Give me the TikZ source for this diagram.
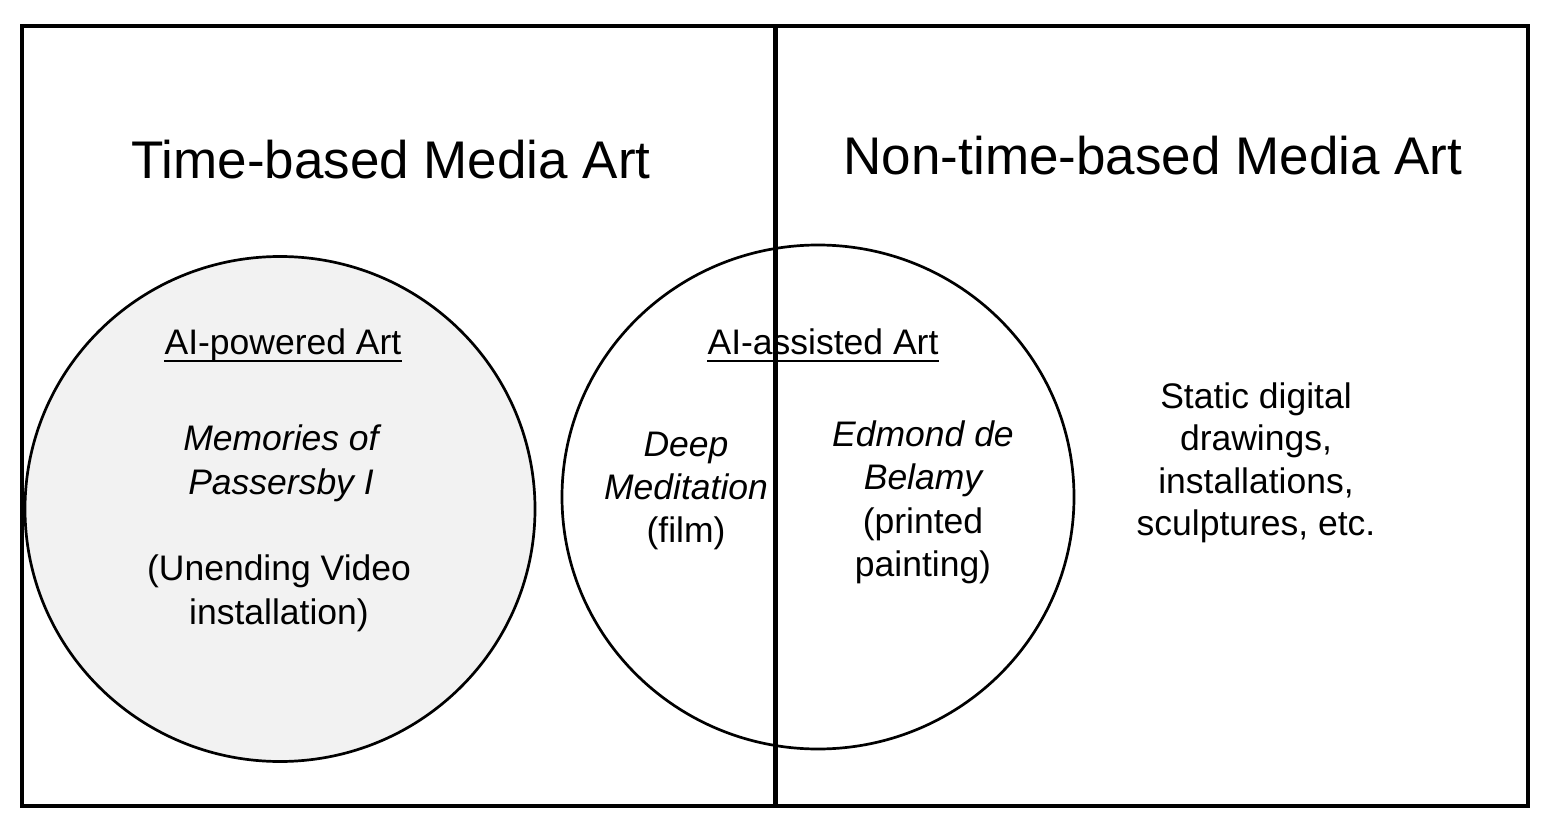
\documentclass[tikz,border=0pt]{standalone}
\usepackage{fontspec}
\setmainfont{Liberation Sans}
\definecolor{lightfill}{HTML}{F2F2F2}
\tikzset{
  frameline/.style={line width=4pt},
  divider/.style={line width=5pt},
  circ/.style={line width=2.7pt, draw=black},
  title/.style={inner sep=0pt, anchor=base, font=\fontsize{53}{60}\selectfont},
  txt/.style={inner sep=0pt, anchor=base, font=\fontsize{35.5}{43}\selectfont},
  ital/.style={txt, font=\fontsize{35.5}{43}\selectfont\itshape},
  uline/.style={line width=2.5pt}
}
\begin{document}
\begin{tikzpicture}[x=1pt,y=-1pt]
\useasboundingbox (0,0) rectangle (1552,834);
% circles
\draw[circ, fill=lightfill] (280,509) ellipse [x radius=255, y radius=252.5];
\draw[circ] (818,497) ellipse [x radius=256, y radius=252];
% frame and divider
\draw[frameline] (22,26) rectangle (1528,806);
\coordinate (dtop) at (775,26);
\coordinate (dbot) at (775,806);
% titles
\node[title] (t1) at (391,179) {Time-based Media Art};
\node[title] (t2) at (1153,175) {Non-time-based Media Art};
% left circle text
\node[txt] (h1) at (283,354) {AI-powered Art};
\draw[uline] ([yshift=-7pt]h1.base west) -- ([yshift=-7pt]h1.base east);
\node[ital] (m1) at (281,450) {Memories of};
\node[ital] (m2) at (281,494) {Passersby I};
\node[txt] (u1) at (279,580) {(Unending Video};
\node[txt] (u2) at (279,624) {installation)};
% right circle text
\node[txt] (h2) at (823,354) {AI-assisted Art};
\draw[uline] ([yshift=-7pt]h2.base west) -- ([yshift=-7pt]h2.base east);
\node[ital] (d1) at (686,456) {Deep};
\node[ital] (d2) at (686,499) {Meditation};
\node[txt] (d3) at (686,542) {(film)};
\node[ital] (e1) at (923,446) {Edmond de};
\node[ital] (e2) at (923,489.5) {Belamy};
\node[txt] (e3) at (923,533) {(printed};
\node[txt] (e4) at (923,576) {painting)};
% static text
\node[txt] (s1) at (1256,408) {Static digital};
\node[txt] (s2) at (1256,450) {drawings,};
\node[txt] (s3) at (1256,493) {installations,};
\node[txt] (s4) at (1256,535) {sculptures, etc.};
% divider on top
\draw[divider] (dtop) -- (dbot);
\end{tikzpicture}
\end{document}
